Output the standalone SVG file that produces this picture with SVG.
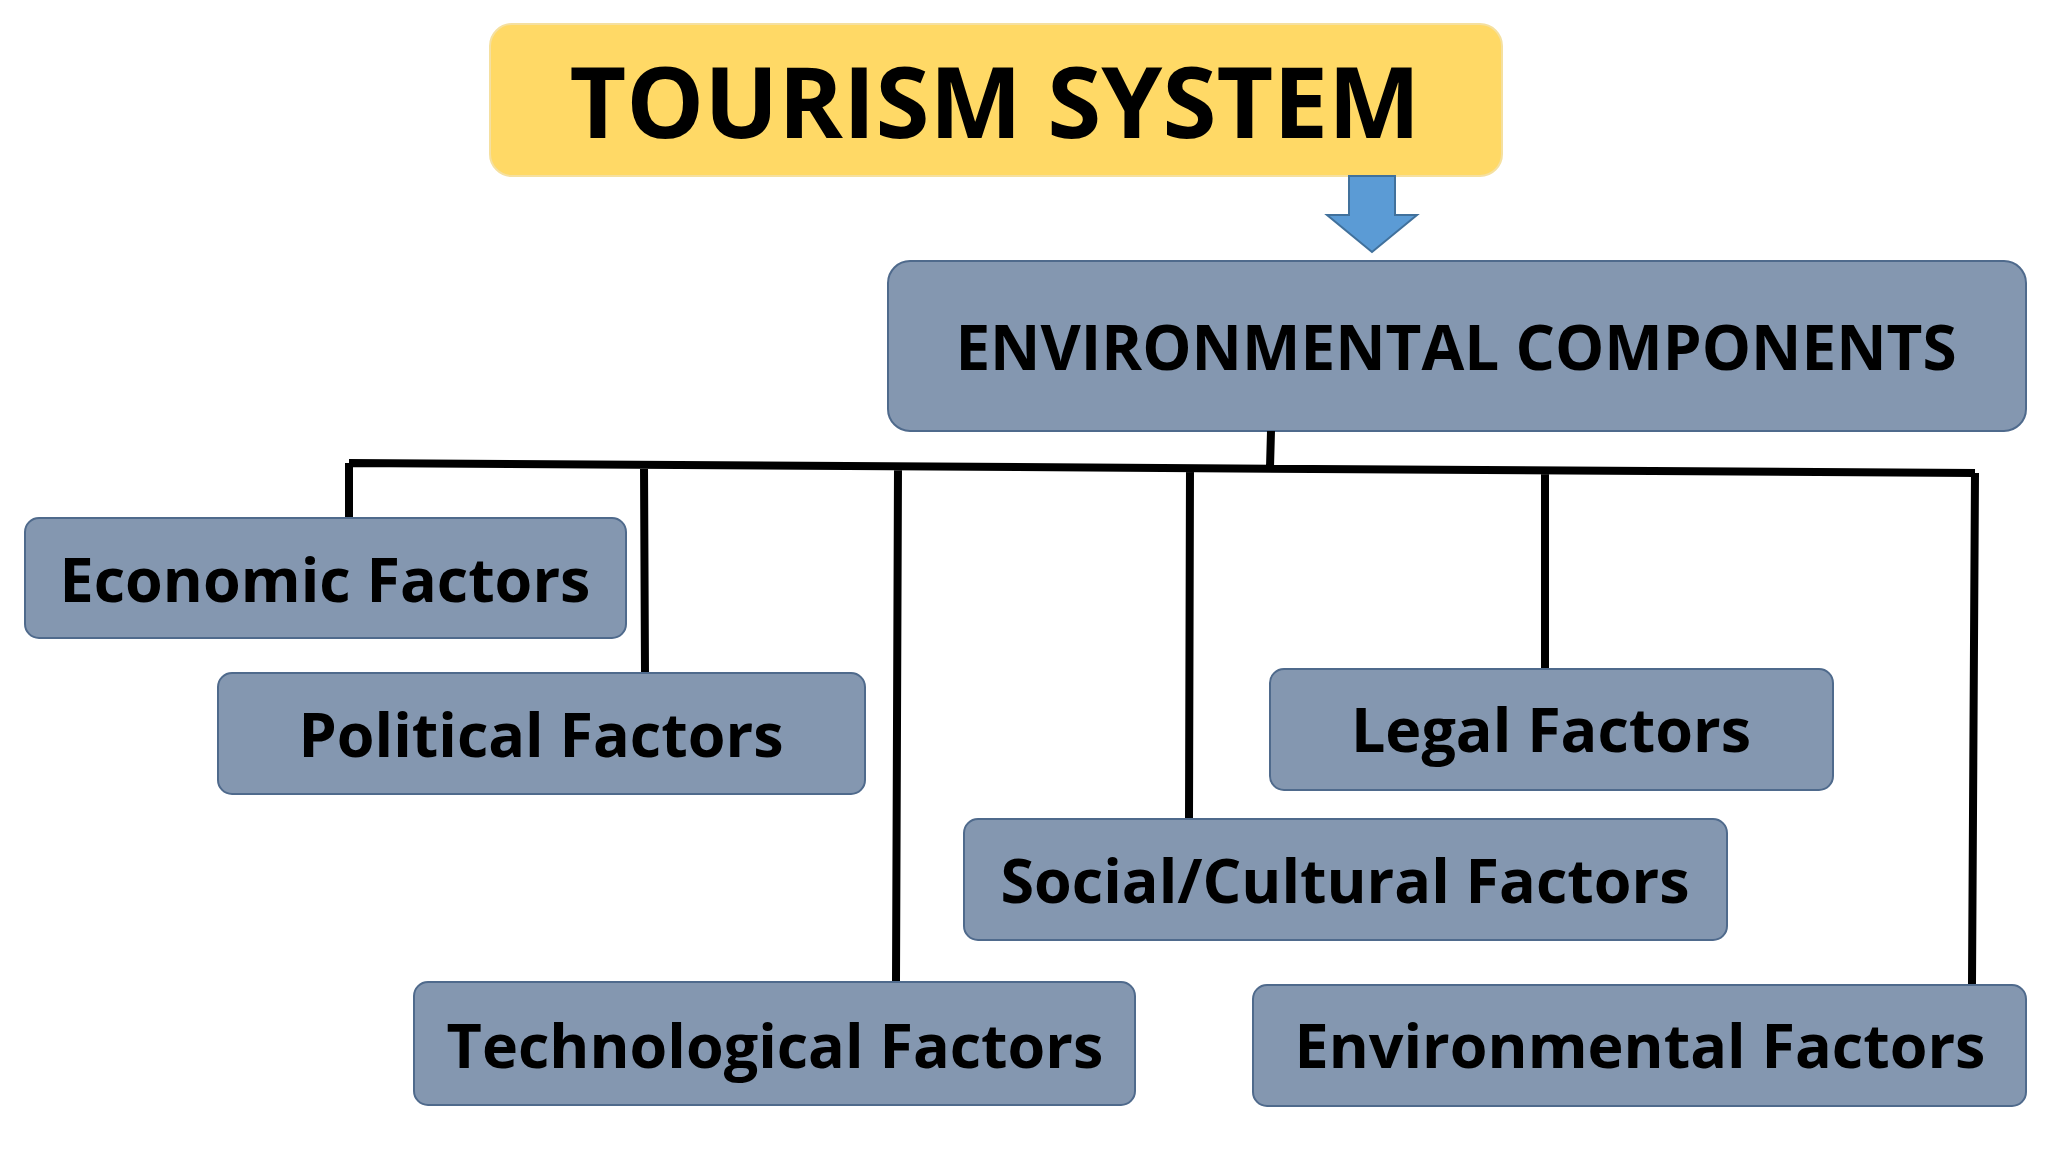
<svg xmlns="http://www.w3.org/2000/svg" width="2048" height="1152" viewBox="0 0 2048 1152">
<style>
.n{fill:#8497b0;stroke:#4f6a8c;stroke-width:2}
.t{font-family:"Open Sans","Liberation Sans",sans-serif;font-weight:bold;fill:#000;text-anchor:middle}
.c{stroke:#000;stroke-width:8;fill:none}
</style>
<rect width="2048" height="1152" fill="#fff"/>
<g id="title"><rect x="490" y="24" width="1012" height="152" rx="22" fill="#ffd966" stroke="#f5e0a0" stroke-width="2"/><text class="t" x="995" y="138" font-size="98">TOURISM SYSTEM</text></g>
<g id="arrow"><polygon points="1349,176 1395,176 1395,215 1417,215 1372,252 1327,215 1349,215" fill="#5b9bd5" stroke="#41719c" stroke-width="2"/></g>
<g id="env"><rect class="n" x="888" y="261" width="1138" height="170" rx="22"/><text class="t" x="1456" y="370" font-size="62">ENVIRONMENTAL COMPONENTS</text></g>
<g id="connectors">
<path class="c" d="M349,463 L1975,473 M1271,431 L1270,467 M349,463 L349,518 M644,465 L645,673 M898,467 L896,982 M1190,468 L1189,820 M1545,470 L1545,669 M1975,473 L1972,984"/>
</g>
<g id="economic"><rect class="n" x="25" y="518" width="601" height="120" rx="14"/><text class="t" x="325" y="602" font-size="61">Economic Factors</text></g>
<g id="political"><rect class="n" x="218" y="673" width="647" height="121" rx="14"/><text class="t" x="541" y="757" font-size="61">Political Factors</text></g>
<g id="legal"><rect class="n" x="1270" y="669" width="563" height="121" rx="14"/><text class="t" x="1551" y="752" font-size="61">Legal Factors</text></g>
<g id="social"><rect class="n" x="964" y="819" width="763" height="121" rx="14"/><text class="t" x="1345" y="903" font-size="61">Social/Cultural Factors</text></g>
<g id="tech"><rect class="n" x="414" y="982" width="721" height="123" rx="14"/><text class="t" x="775" y="1068" font-size="61">Technological Factors</text></g>
<g id="envf"><rect class="n" x="1253" y="985" width="773" height="121" rx="14"/><text class="t" x="1640" y="1068" font-size="61">Environmental Factors</text></g>
</svg>
